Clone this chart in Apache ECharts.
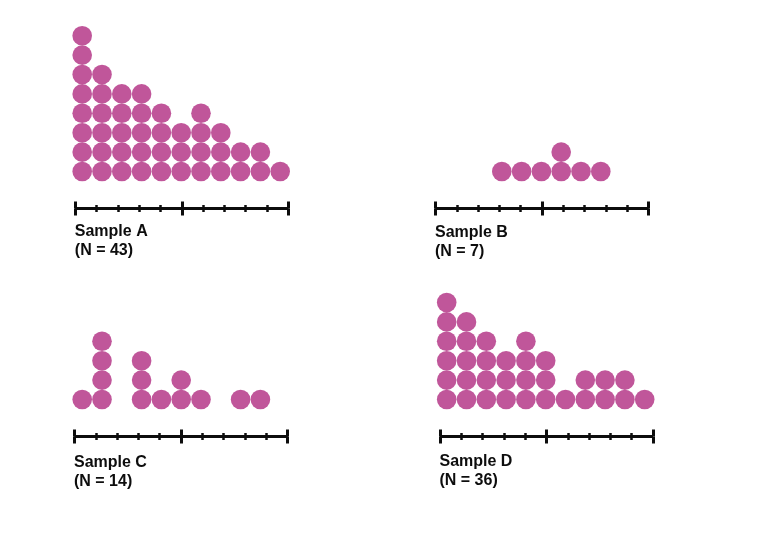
<!DOCTYPE html>
<html>
<head>
<meta charset="utf-8">
<script src="https://cdn.jsdelivr.net/npm/echarts@6/dist/echarts.min.js"></script>
<style>html,body{margin:0;padding:0;background:#fff}#c{width:761px;height:538px}</style>
</head>
<body>
<div id="c"></div>
<script>
// Data: number of dots stacked at each axis position 0..10
const positions = [0,1,2,3,4,5,6,7,8,9,10];
const sampleA = [8,6,5,5,4,3,4,3,2,2,1];
const sampleB = [0,0,0,1,1,1,2,1,1,0,0];
const sampleC = [1,4,0,3,1,2,1,0,1,1,0];
const sampleD = [6,5,4,3,4,3,1,2,2,2,1];
const sampleNames = ['Sample A','Sample B','Sample C','Sample D'];
const sampleN = [43, 7, 14, 36];
const axisMin = 0, axisMax = 10;

const samples = [sampleA, sampleB, sampleC, sampleD];
// layout per panel (pixels)
const layout = [
  {axisLeft: 75.3, axisY: 208.5, dotLeft: 72.3, titleY: 232},
  {axisLeft: 435.5, axisY: 208.5, dotLeft: 432.5, titleY: 233},
  {axisLeft: 74.5, axisY: 436.5, dotLeft: 72.3, titleY: 463},
  {axisLeft: 440, axisY: 436.5, dotLeft: 436.8, titleY: 462}
];
const axisW = 213, colStep = 19.8, rowStep = 19.4, maxRows = 8;
const dotColor = '#c0569a', inkColor = '#0d0d0d';

const grids = [], xAxes = [], yAxes = [], series = [], titles = [];
samples.forEach((counts, p) => {
  const L = layout[p];
  // dots grid
  const gDot = grids.length;
  grids.push({left: L.dotLeft, width: colStep * 11, top: L.axisY - 37 + rowStep / 2 - rowStep * maxRows, height: rowStep * maxRows});
  xAxes.push({gridIndex: gDot, type: 'value', min: -0.5, max: 10.5, show: false});
  yAxes.push({gridIndex: gDot, type: 'value', min: 0, max: maxRows, show: false});
  const pts = [];
  counts.forEach((c, i) => { for (let r = 0; r < c; r++) pts.push([positions[i], r + 0.5]); });
  series.push({type: 'scatter', xAxisIndex: xAxes.length - 1, yAxisIndex: yAxes.length - 1,
    data: pts, symbolSize: 19.6, itemStyle: {color: dotColor, opacity: 1}, silent: true});

  // axis grid
  const gAx = grids.length;
  grids.push({left: L.axisLeft, width: axisW, top: L.axisY - 1, height: 1});
  [true, false].forEach(inside => {
    xAxes.push({gridIndex: gAx, type: 'value', position: 'bottom', min: axisMin, max: axisMax, interval: 5,
      axisLine: {show: true, lineStyle: {color: inkColor, width: 3, cap: 'butt'}},
      axisTick: {show: true, inside: inside, length: 7, lineStyle: {color: inkColor, width: 3}},
      minorTick: {show: true, splitNumber: 5, length: 3.5, lineStyle: {color: inkColor, width: 2.5}},
      axisLabel: {show: false}, splitLine: {show: false}, minorSplitLine: {show: false}});
  });
  yAxes.push({gridIndex: gAx, type: 'value', show: false});
  series.push({type: 'scatter', xAxisIndex: xAxes.length - 1, yAxisIndex: yAxes.length - 1, data: [], silent: true});

  titles.push({text: sampleNames[p] + '\n(N = ' + sampleN[p] + ')', left: L.axisLeft - 0.5, top: L.titleY - 9.5, padding: 0,
    textStyle: {fontFamily: 'Liberation Sans', fontWeight: 'bold', fontSize: 16, lineHeight: 19, color: inkColor}});
});

const chart = echarts.init(document.getElementById('c'), null, {renderer: 'canvas'});
chart.setOption({
  animation: false,
  backgroundColor: '#ffffff',
  title: titles,
  grid: grids,
  xAxis: xAxes,
  yAxis: yAxes,
  series: series
});
</script>
</body>
</html>
